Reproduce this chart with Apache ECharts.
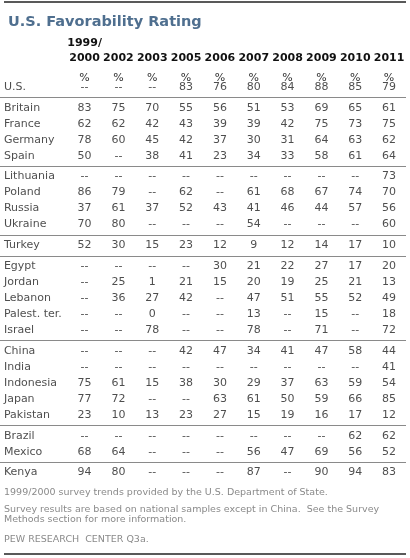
<!DOCTYPE html>
<html><head><meta charset="utf-8">
<script src="https://cdn.jsdelivr.net/npm/echarts@6/dist/echarts.min.js"></script>
<style>html,body{margin:0;padding:0;background:#fff}#c{width:410px;height:558px}</style>
</head><body><div id="c"></div>
<script>
const years = ['1999/\n2000','2002','2003','2005','2006','2007','2008','2009','2010','2011'];
const countries = ['U.S.','Britain','France','Germany','Spain','Lithuania','Poland','Russia','Ukraine','Turkey','Egypt','Jordan','Lebanon','Palest. ter.','Israel','China','India','Indonesia','Japan','Pakistan','Brazil','Mexico','Kenya'];
const groups = [0,1,1,1,1,2,2,2,2,3,4,4,4,4,4,5,5,5,5,5,6,6,7];
const _ = null;
const v2000 = [_,83,62,78,50,_,86,37,70,52,_,_,_,_,_,_,_,75,77,23,_,68,94];
const v2002 = [_,75,62,60,_,_,79,61,80,30,_,25,36,_,_,_,_,61,72,10,_,64,80];
const v2003 = [_,70,42,45,38,_,_,37,_,15,_,1,27,0,78,_,_,15,_,13,_,_,_];
const v2005 = [83,55,43,42,41,_,62,52,_,23,_,21,42,_,_,42,_,38,_,23,_,_,_];
const v2006 = [76,56,39,37,23,_,_,43,_,12,30,15,_,_,_,47,_,30,63,27,_,_,_];
const v2007 = [80,51,39,30,34,_,61,41,54,9,21,20,47,13,78,34,_,29,61,15,_,56,87];
const v2008 = [84,53,42,31,33,_,68,46,_,12,22,19,51,_,_,41,_,37,50,19,_,47,_];
const v2009 = [88,69,75,64,58,_,67,44,_,14,27,25,55,15,71,47,_,63,59,16,_,69,90];
const v2010 = [85,65,73,63,61,_,74,57,_,17,17,21,52,_,_,58,_,59,66,17,62,56,94];
const v2011 = [79,61,75,62,64,73,70,56,60,10,20,13,49,18,72,44,41,54,85,12,62,52,83];
const columns = [v2000,v2002,v2003,v2005,v2006,v2007,v2008,v2009,v2010,v2011];
const footnotes = ['1999/2000 survey trends provided by the U.S. Department of State.',
 'Survey results are based on national samples except in China.  See the Survey\nMethods section for more information.',
 'PEW RESEARCH  CENTER Q3a.'];

const FONT = 'DejaVu Sans';
const pos = countries.map((c,i)=> i + 0.3*groups[i]);
const xcats = ['n0','n1'].concat(years);
const cells = [];
columns.forEach((col,j)=>col.forEach((v,i)=>cells.push([j+2,pos[i],v])));
const names = countries.map((c,i)=>[0,pos[i],c]);
const seps = [];
for (let i=1;i<countries.length;i++) if (groups[i]!==groups[i-1]) seps.push({yAxis:(pos[i]+pos[i-1])/2});

const chart = echarts.init(document.getElementById('c'));
chart.setOption({
  animation:false,
  grid:{left:0,right:4,top:77.4,bottom:77.4},
  title:{text:'U.S. Favorability Rating',left:3,top:10,textStyle:{fontFamily:FONT,fontSize:14.5,fontWeight:'bold',color:'#4f6f8f'}},
  xAxis:{type:'category',data:xcats,position:'top',axisLine:{show:false},axisTick:{show:false},splitLine:{show:false},
    axisLabel:{interval:0,margin:-6,verticalAlign:'bottom',
      formatter:v=>v.startsWith('n')?'':'{y|'+v.split('\n').join('}\n{y|')+'}\n{p|%}',
      rich:{y:{fontFamily:FONT,fontWeight:'bold',fontSize:11,color:'#111',lineHeight:15,align:'center'},
            p:{fontFamily:FONT,fontSize:11,color:'#333',lineHeight:18,align:'center',verticalAlign:'bottom'}}}},
  yAxis:{type:'value',inverse:true,min:-0.6,max:24.6,show:false},
  series:[
    {type:'scatter',symbolSize:0,data:cells,silent:true,
      label:{show:true,position:'inside',fontFamily:FONT,fontSize:11,color:'#222',
        formatter:p=>p.value[2]==null?'--':String(p.value[2])},
      markLine:{silent:true,symbol:'none',label:{show:false},lineStyle:{color:'#8a8a8a',width:1,type:'solid'},data:seps}},
    {type:'scatter',symbolSize:0,data:names,silent:true,
      label:{show:true,position:'inside',align:'left',offset:[-13,0],fontFamily:FONT,fontSize:11,color:'#222',
        formatter:p=>p.value[2]}}
  ],
  graphic:[
    {type:'line',shape:{x1:4,y1:2,x2:406,y2:2},style:{stroke:'#222',lineWidth:1.5}},
    {type:'text',left:4,top:488,style:{text:footnotes[0],fontFamily:FONT,fontSize:9.5,fill:'#8a8a8a'}},
    {type:'text',left:4,top:505,style:{text:footnotes[1],fontFamily:FONT,fontSize:9.5,fill:'#8a8a8a',lineHeight:10}},
    {type:'text',left:4,top:535,style:{text:footnotes[2],fontFamily:FONT,fontSize:9.5,fill:'#8a8a8a'}},
    {type:'line',shape:{x1:4,y1:554,x2:406,y2:554},style:{stroke:'#222',lineWidth:1.5}}
  ]
});
</script></body></html>
